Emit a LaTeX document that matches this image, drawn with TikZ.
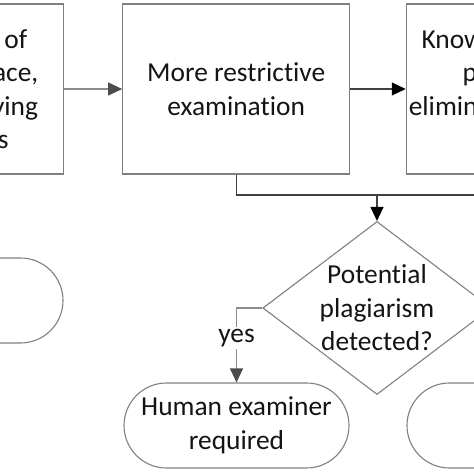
\documentclass[tikz,border=0pt]{standalone}
\usepackage{fontspec}
\setmainfont{Carlito}[Ligatures={NoCommon}]
\usetikzlibrary{shapes.geometric,shapes.misc,arrows.meta}

\begin{document}
\begin{tikzpicture}[x=1pt,y=-1pt]
  \tikzstyle{every node}+=[font=\fontsize{27.4}{33.5}\selectfont, text=black!92, align=center]
  \tikzstyle{procbox}=[draw=black!50, line width=1.1pt, minimum width=227pt, minimum height=170pt, inner sep=0pt]
  \tikzstyle{terminal}=[draw=black!50, line width=1.1pt, rounded rectangle, minimum width=225pt, minimum height=85pt, inner sep=0pt]
  \tikzstyle{decision}=[draw=black!50, line width=1.1pt, diamond, aspect=1.32, minimum width=222pt, minimum height=168pt, inner sep=0pt]
  \tikzstyle{greyarr}=[draw=black!45, line width=1.1pt, -{Triangle[length=14pt,width=13pt,color=black!70]}]
  \tikzstyle{darkarr}=[draw=black!75, line width=1.1pt, -{Triangle[length=14pt,width=13pt,color=black]}]
  \useasboundingbox (0,0) rectangle (474,474);
  % top row
  \node[procbox] (clean) at (-50,89) {Elimination of\\the whitespace,\\then identifying\\comments};
  \node[procbox] (restrict) at (236.2,89) {More restrictive\\examination};
  \node[procbox] (known) at (519.8,89) {Known sources of\\plagiarism\\eliminated from the\\hit lists};
  % decision and outcomes
  \node[decision] (detect) at (377,308) {Potential\\plagiarism\\detected?};
  \node[terminal] (start) at (-49.5,300.5) {};
  \node[terminal] (human) at (236.5,425.5) {Human examiner\\required};
  \node[terminal] (noexam) at (519.5,425.5) {};
  \coordinate (merge) at (377,195);
  % connectors
  \draw[greyarr] (clean.east) -- (restrict.west);
  \draw[darkarr] (restrict.east) -- (known.west);
  \draw[draw=black!75, line width=1.1pt] (restrict.south) -- (restrict.south |- merge) -- (known.south |- merge) -- (known.south);
  \draw[darkarr] (merge) -- (detect.north);
  \draw[greyarr] (detect.west) -| node[pos=0.70, fill=white, inner sep=2pt] {yes} (human.north);
\end{tikzpicture}
\end{document}
